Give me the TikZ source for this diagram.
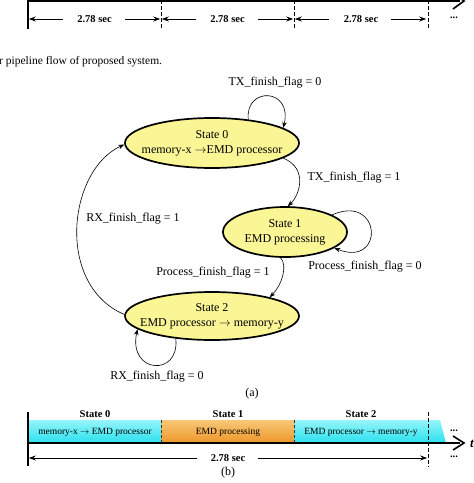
\documentclass[tikz,border=0pt]{standalone}
\usepackage{fontspec}
\setmainfont{Liberation Serif}
\usetikzlibrary{shapes.geometric,arrows.meta}
\definecolor{stfill}{RGB}{250,246,150}
\definecolor{cyantop}{RGB}{150,245,250}
\definecolor{cyanbot}{RGB}{40,225,238}
\definecolor{orgtop}{RGB}{248,200,120}
\definecolor{orgbot}{RGB}{238,150,40}
\begin{document}
\begin{tikzpicture}[x=1pt,y=-1pt,
  statebox/.style={ellipse,draw=black,line width=1.7pt,fill=stfill,inner sep=0pt,
    align=center,font=\fontsize{12}{15}\selectfont},
  lbl/.style={font=\fontsize{12}{14}\selectfont,inner sep=0pt},
  trans/.style={line width=0.6pt,-{Stealth[length=6pt,width=4.5pt]}},
  dimarrow/.style={line width=1pt,-{Stealth[length=7pt,width=5pt]}},
  boldlbl/.style={font=\fontsize{10.5}{12}\bfseries\selectfont,inner sep=0pt},
  barlbl/.style={font=\fontsize{9.5}{11}\selectfont,inner sep=0pt},
  tick/.style={line width=1.2pt},
  dtick/.style={line width=0.9pt,dash pattern=on 4pt off 2pt},
  axis/.style={line width=2.2pt}
]
\useasboundingbox (0,0) rectangle (474,483);

% ---------- top timeline ----------
\draw[axis] (28,1) -- (460,1);
\draw[line width=1.6pt] (453,9) -- (464,1) -- (453,-7);
\node[font=\fontsize{13}{14}\bfseries\itshape\selectfont] (ttop) at (472,-3) {t};
\draw[tick] (28,0) -- (28,29);
\foreach \xx in {161,294,428} \draw[dtick] (\xx,0) -- (\xx,29);
\foreach \xa/\xm in {28/94.5,161/227.5,294/361}{
  \draw[dimarrow] (\xa+35,19) -- (\xa+0.8,19);
  \draw[dimarrow] (\xa+97,19) -- (\xa+132.2,19);
  \node[boldlbl] at (\xm,19) {2.78 sec};
}
\node[boldlbl] (dotstop) at (454,18) {...};
\node[font=\fontsize{11.5}{13}\selectfont,anchor=west,inner sep=0pt] (cap) at (-1,62) {r pipeline flow of proposed system.};

% ---------- state diagram ----------
\node[statebox,minimum width=174pt,minimum height=50pt] (s0) at (212,143)
  {\makebox[0pt]{State 0}\\\makebox[0pt]{memory-x $\rightarrow$EMD processor}};
\node[statebox,minimum width=124pt,minimum height=50pt] (s1) at (285,232)
  {\makebox[0pt]{State 1}\\\makebox[0pt]{EMD processing}};
\node[statebox,minimum width=174pt,minimum height=48pt] (s2) at (212,316)
  {\makebox[0pt]{State 2}\\\makebox[0pt]{EMD processor $\rightarrow$ memory-y}};

\draw[trans] (s0.33) .. controls (245,86) and (293,88) .. (s0.12);
\draw[trans] (s0.-12) .. controls (308,168) and (300,195) .. (s1.84);
\draw[trans] (s1.20) .. controls (382,193) and (385,268) .. (s1.-18);
\draw[trans] (s1.-100) .. controls (288,265) and (282,285) .. (s2.18);
\draw[trans] (s2.212) .. controls (180,377) and (128,374) .. (s2.190);
\draw[trans] (s2.179) .. controls (55,285) and (68,170) .. (s0.181);

\node[lbl] (l0) at (275,83) {TX\_finish\_flag = 0};
\node[lbl] (l1) at (354,178) {TX\_finish\_flag = 1};
\node[lbl] (l2) at (365,267) {Process\_finish\_flag = 0};
\node[lbl] (l3) at (213,273) {Process\_finish\_flag = 1};
\node[lbl] (l4) at (157,377) {RX\_finish\_flag = 0};
\node[lbl] (l5) at (133,219) {RX\_finish\_flag = 1};
\node[lbl] (capa) at (252,394) {(a)};

% ---------- bottom timeline ----------
\shade[top color=cyantop,bottom color=cyanbot] (28,420) rectangle (161,443);
\shade[top color=orgtop,bottom color=orgbot] (161,420) rectangle (294,443);
\shade[top color=cyantop,bottom color=cyanbot] (294,420) -- (440,420) -- (446,443) -- (294,443) -- cycle;
\draw[line width=0.8pt,dash pattern=on 3pt off 2pt,black!80] (161,420) -- (161,443);
\draw[line width=0.8pt,dash pattern=on 3pt off 2pt,black!80] (294,420) -- (294,443);
\draw[axis] (28,443) -- (460,443);
\draw[line width=1.6pt] (453,436) -- (464,443) -- (453,450);
\node[font=\fontsize{13}{14}\bfseries\itshape\selectfont] (tbot) at (472,444) {t};
\draw[tick] (28,412) -- (28,466);
\draw[dtick] (428,412) -- (428,467);
\node[boldlbl] (b0) at (95,414) {State 0};
\node[boldlbl] (b1) at (228,414) {State 1};
\node[boldlbl] (b2) at (361,414) {State 2};
\node[barlbl] (m0) at (95,432) {memory-x $\rightarrow$ EMD processor};
\node[barlbl] (m1) at (228,432) {EMD processing};
\node[barlbl] (m2) at (361,432) {EMD processor $\rightarrow$ memory-y};
\draw[dimarrow] (197,458) -- (28.8,458);
\draw[dimarrow] (258,458) -- (427.2,458);
\node[boldlbl] (dim) at (228,458) {2.78 sec};
\node[boldlbl] (d1) at (454,431) {...};
\node[boldlbl] (d2) at (454,457) {...};
\node[lbl] (capb) at (228,473) {(b)};
\end{tikzpicture}
\end{document}
